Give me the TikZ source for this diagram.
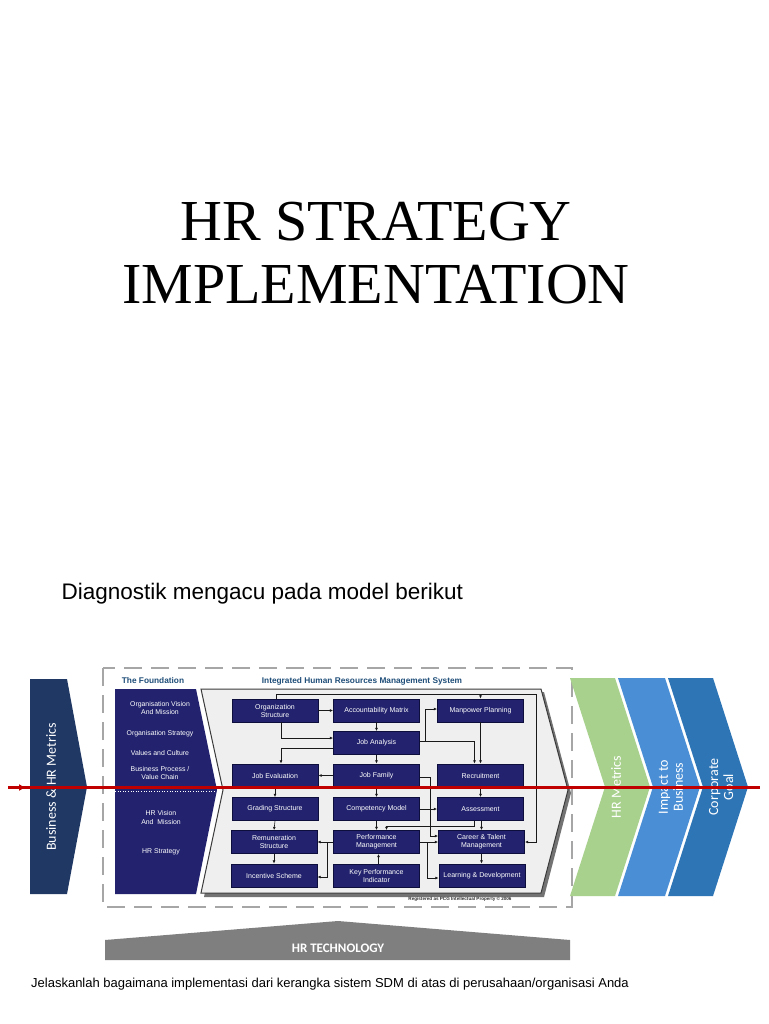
\documentclass[tikz,border=0pt]{standalone}
\usepackage{fontspec}
\setmainfont{Liberation Sans}
\newfontfamily\seriffont{Liberation Serif}
\newfontfamily\calfont{Carlito}
\usetikzlibrary{arrows.meta,calc}
\definecolor{navybox}{HTML}{22226E}
\definecolor{navyedge}{HTML}{0E0E3C}
\definecolor{leftnavy}{HTML}{203864}
\definecolor{panelgray}{HTML}{EFEFEF}
\definecolor{paneledge}{HTML}{3A3A3A}
\definecolor{labelblue}{HTML}{1F4E79}
\definecolor{chgreen}{HTML}{A9D18E}
\definecolor{chblue}{HTML}{4A8FD6}
\definecolor{chdark}{HTML}{2E75B6}
\definecolor{techgray}{HTML}{7F7F7F}
\definecolor{dashgray}{HTML}{A6A6A6}
\definecolor{redln}{HTML}{C00000}
\tikzset{
  hrbox/.style={draw=navyedge, line width=0.8pt, fill=navybox, text=white,
    minimum width=86, minimum height=23, inner sep=1pt, align=center,
    font=\fontsize{7}{8}\selectfont},
  conn/.style={draw=black!90, line width=0.6pt, -{Latex[length=3.2pt,width=2.8pt]}},
  plain/.style={draw=black!90, line width=0.6pt},
  found/.style={text=white, align=center, font=\fontsize{6.9}{8.5}\selectfont},
  chevtext/.style={text=white, rotate=90, align=center, font=\calfont\fontsize{14}{15}\selectfont},
  redline/.style={draw=redln, line width=2.6pt},
}
\begin{document}
\begin{tikzpicture}[x=1pt,y=-1pt]
\useasboundingbox (0,0) rectangle (768,1024);
\fill[white] (0,0) rectangle (768,1024);

% Title
\node[font=\seriffont\fontsize{58}{63}\selectfont, align=center] (title) at (376,253) {HR STRATEGY\\IMPLEMENTATION};
\node[font=\fontsize{22.5}{26}\selectfont, anchor=west] (diag) at (58,594) {Diagnostik mengacu pada model berikut};

% Left chevron
\fill[leftnavy] (30,679) -- (67,679) -- (87,787) -- (67,894) -- (30,894) -- cycle;
\node[chevtext] (bhr) at (51,787) {Business \& HR Metrics};

% Dashed frame
\draw[dashgray, line width=2.5pt, dash pattern=on 18pt off 9pt] (103,668) rectangle (572,907);

% Labels
\node[font=\bfseries\fontsize{8.3}{9}\selectfont, text=labelblue] (foundlbl) at (153,681) {The Foundation};
\node[font=\bfseries\fontsize{8.3}{9}\selectfont, text=labelblue] (ihrlbl) at (362,681) {Integrated Human Resources Management System};

% Foundation panel
\fill[navybox] (115,689) -- (196,689) -- (217,790) -- (196,894) -- (115,894) -- cycle;
\draw[white, line width=0.6pt, dotted] (115,791) -- (215,791);
\node[found] (f1) at (160,708) {Organisation Vision\\And Mission};
\node[found] (f2) at (160,734) {Organisation Strategy};
\node[found] (f3) at (160,753) {Values and Culture};
\node[found] (f4) at (160,773) {Business Process /\\Value Chain};
\node[found] (f5) at (161,817.5) {HR Vision\\And\ \ Mission};
\node[found] (f6) at (161,852) {HR Strategy};

% Gray panel with shadow
\fill[black!55] (204,692) -- (544,692) -- (571,793) -- (544,897) -- (204,897) -- (226,793) -- cycle;
\filldraw[fill=panelgray, draw=paneledge, line width=1pt] (201,689) -- (541,689) -- (568,790) -- (541,893) -- (201,893) -- (223,790) -- cycle;

% Boxes
\node[hrbox] (os) at (275,710.5) {Organization\\Structure};
\node[hrbox] (am) at (376.5,710.5) {Accountability Matrix};
\node[hrbox] (mp) at (480.5,710.5) {Manpower Planning};
\node[hrbox] (ja) at (376.5,743) {Job Analysis};
\node[hrbox] (je) at (275,775.5) {Job Evaluation};
\node[hrbox] (jf) at (376.5,775.5) {Job Family};
\node[hrbox] (rc) at (480.5,775.5) {Recruitment};
\node[hrbox] (gs) at (275,809) {Grading Structure};
\node[hrbox] (cm) at (376.5,809) {Competency Model};
\node[hrbox] (as) at (480.5,809) {Assessment};
\node[hrbox] (rs) at (274,842) {Remuneration\\Structure};
\node[hrbox] (pm) at (376.5,842) {Performance\\Management};
\node[hrbox] (ct) at (481.5,842) {Career \& Talent\\Management};
\node[hrbox] (is) at (274,875.5) {Incentive Scheme};
\node[hrbox] (kpi) at (376.5,875.5) {Key Performance\\Indicator};
\node[hrbox, inner sep=0pt] (ld) at (482,875.5) {Learning \& Development};

% Connectors
\coordinate (lpL) at (276,694);
\coordinate (lpR) at (536,694);
\draw[plain] (os.north -| lpL) -- (lpL) -- (lpR);
\draw[conn] (lpR) |- (ct.east);
\draw[conn] (mp.north |- lpL) -- (mp.north);
\draw[conn] (os.east) -- (am.west);
\draw[conn] (am.south) -- (ja.north);
\draw[conn] ($(os.south)+(6,0)$) |- ($(ja.west)+(0,-5)$);
\draw[conn] ($(ja.west)+(0,5)$) -| ($(je.north)+(6,0)$);
\draw[conn] (ja.south) -- (jf.north);
\draw[conn] (jf.west) -- (je.east);
\draw[conn] (je.south) -- (gs.north);
\draw[conn] (jf.south) -- (cm.north);
\draw[conn] (gs.south) -- (rs.north);
\draw[conn] (rs.south) -- (is.north);
\draw[conn] (pm.west) -- (rs.east);
\draw[conn] ($(pm.west)+(-6,0)$) |- ($(is.east)+(0,1.5)$);
\draw[conn] (cm.south) -- (pm.north);
\draw[conn] ($(kpi.north)+(2,0)$) -- ($(pm.south)+(2,0)$);
\draw[conn] (cm.east) -- (as.west);
\draw[conn] ($(as.south)+(-6,0)$) -- ++(0,5) -| ($(pm.north)+(10,0)$);
\draw[conn] (as.south -| ct.north) -- (ct.north);
\draw[conn] (rc.south) -- (rc.south |- as.north);
\draw[conn] (mp.south) -- (mp.south |- rc.north);
\draw[conn] ($(ja.east)+(0,-1.5)$) -- ++(5,0) |- ($(mp.west)+(0,-1.5)$);
\draw[conn] ($(ja.east)+(0,-1.5)$) -| ($(rc.north)+(-6,0)$);
\draw[conn] ($(jf.east)+(0,1.5)$) -- ++(10,0) |- ($(ct.west)+(0,-6)$);
\draw[conn] (pm.east) -- (pm.east -| ct.west);
\draw[conn] (pm.east) -- ++(7,0) |- ($(ld.west)+(0,2.5)$);
\draw[conn] (ct.south) -- (ct.south |- ld.north);

\node[font=\bfseries\fontsize{4.6}{5}\selectfont, text=black!80] (reg) at (460,899.5) {Registered as PCG Intellectual Property \textcopyright\ 2006};

% Right chevrons
\fill[chgreen] (570,678) -- (615,678) -- (650,787) -- (615,896) -- (570,896) -- (605,787) -- cycle;
\fill[chblue] (618,678) -- (665,678) -- (700,787) -- (665,896) -- (618,896) -- (653,787) -- cycle;
\fill[chdark] (668,678) -- (713,678) -- (748,787) -- (713,896) -- (668,896) -- (703,787) -- cycle;
\node[chevtext] (hrm) at (616,787) {HR Metrics};
\node[chevtext] (imp) at (671,787) {Impact to\\Business};
\node[chevtext] (cg) at (721,787) {Corporate\\Goal};

% HR technology
\fill[techgray] (105,960) -- (105,940) -- (338,921) -- (570,940) -- (570,960) -- cycle;
\node[text=white, font=\calfont\bfseries\fontsize{13}{14}\selectfont] (tech) at (338,948) {HR TECHNOLOGY};

% Red line
\coordinate (rl) at (8,787.5);
\coordinate (ra) at (26,787.5);
\coordinate (rr) at (760,787.5);
\draw[redline] (rl) -- (rr);
\draw[redline, -{Latex[length=7pt,width=7pt]}] (rl) -- (ra);

% Bottom text
\node[font=\fontsize{13}{15}\selectfont] (q) at (330,984) {Jelaskanlah bagaimana implementasi dari kerangka sistem SDM di atas di perusahaan/organisasi Anda};
\end{tikzpicture}
\end{document}
